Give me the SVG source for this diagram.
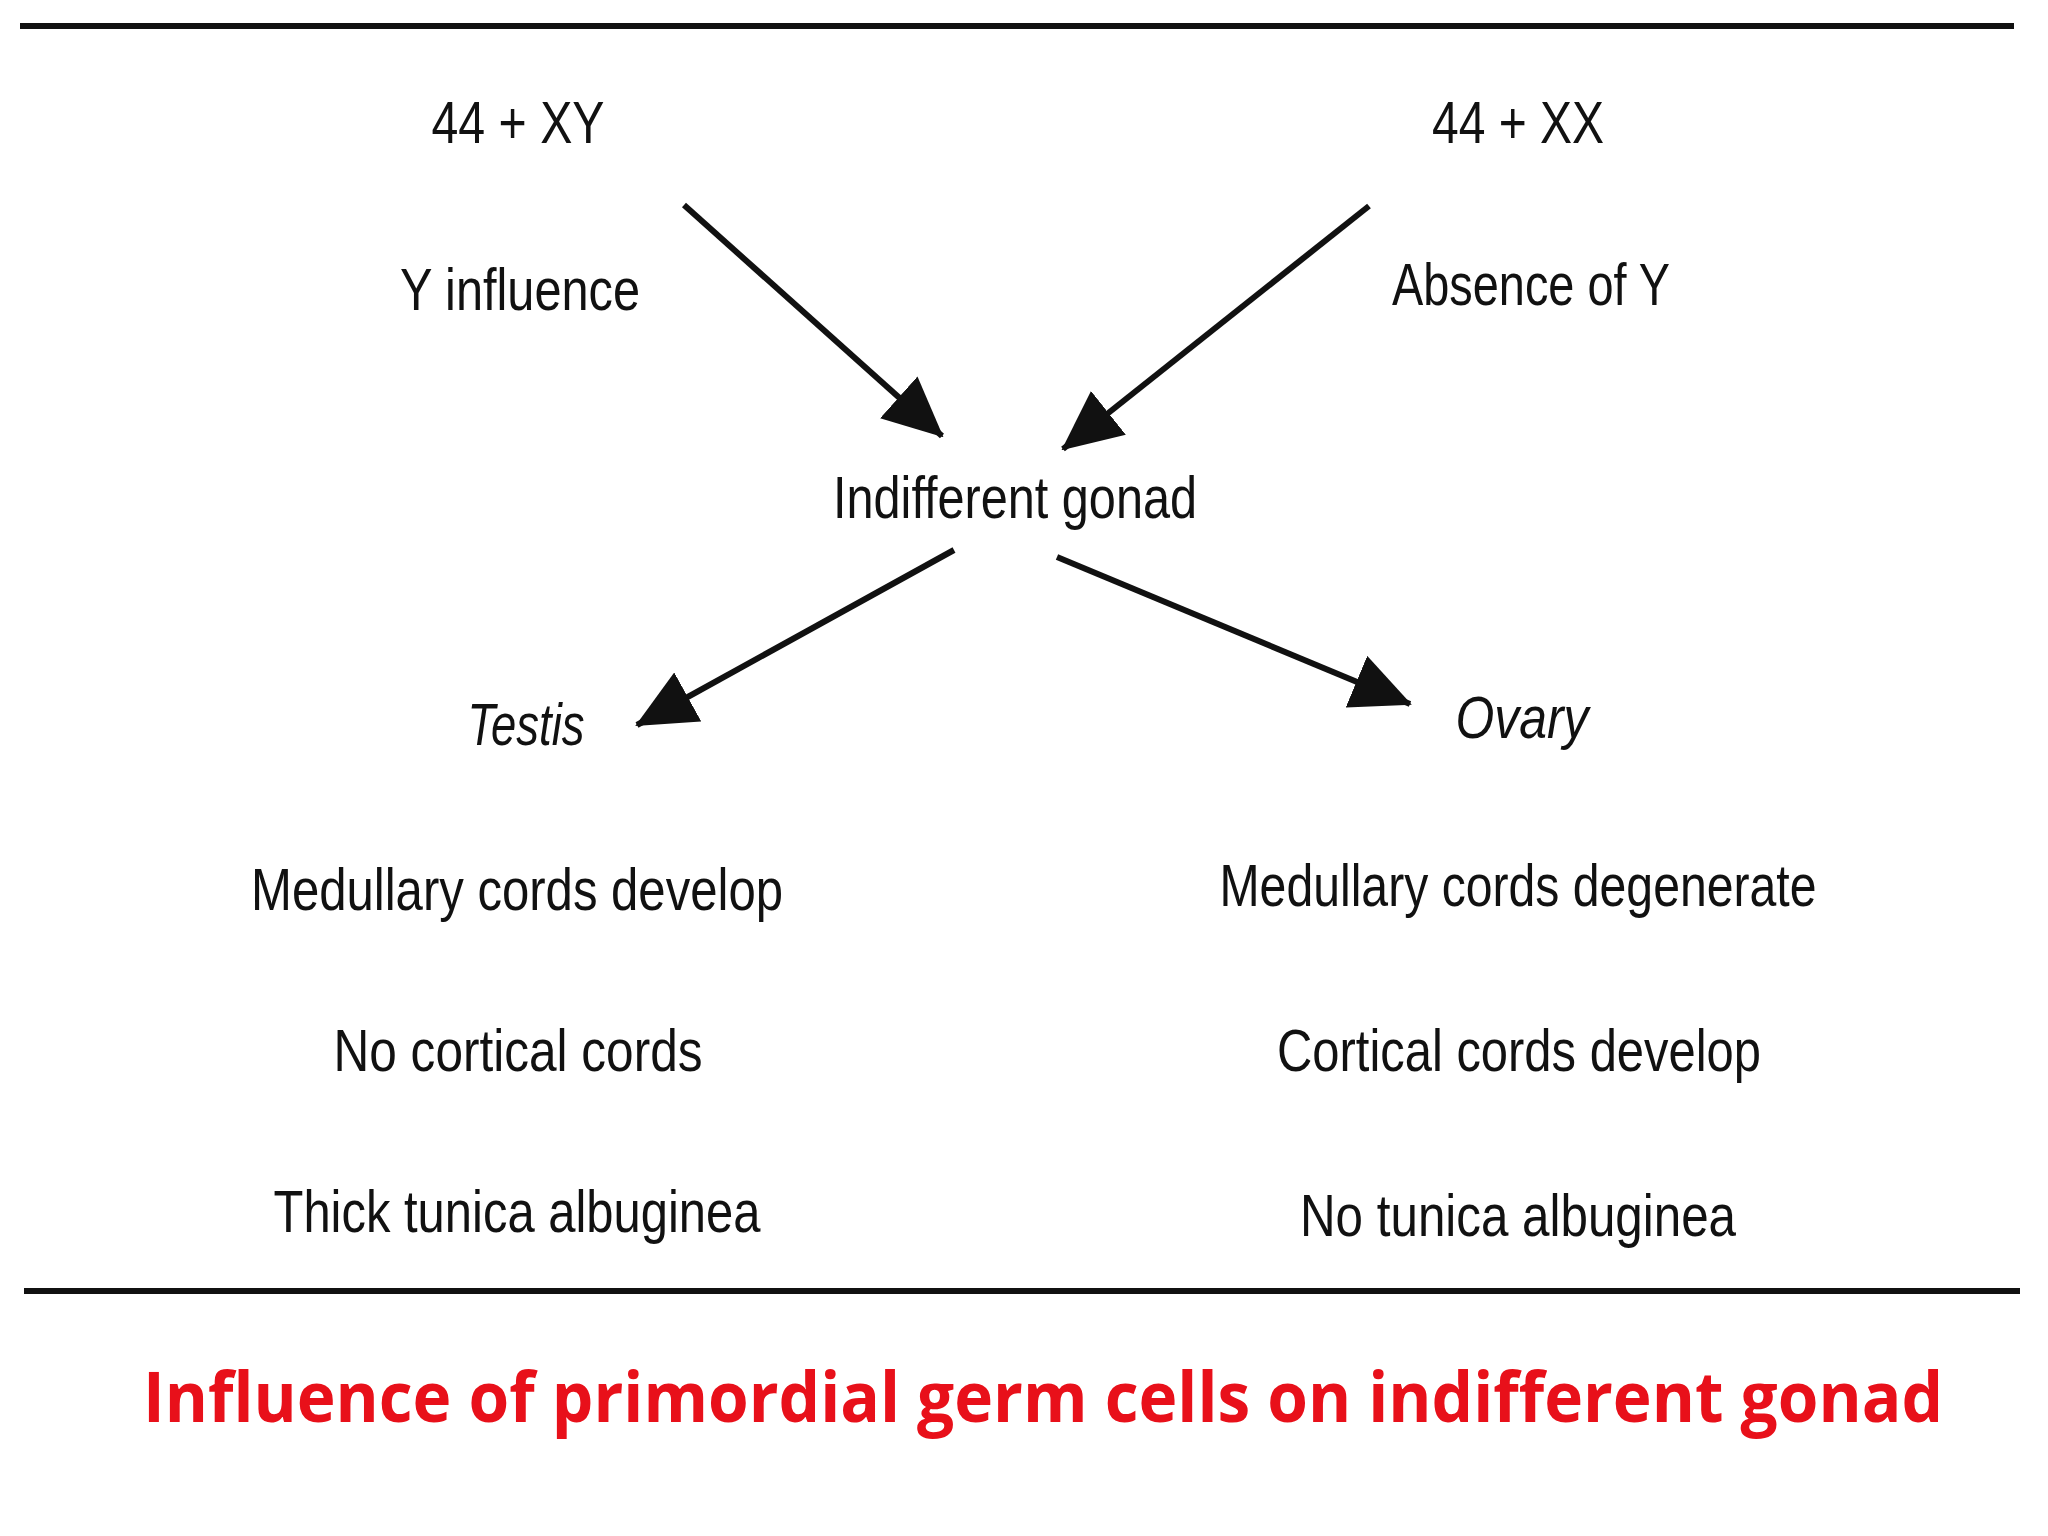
<svg xmlns="http://www.w3.org/2000/svg" width="2048" height="1536" viewBox="0 0 2048 1536">
<style>
.t{font-family:"Liberation Sans",Arial,sans-serif;font-size:60px;fill:#111;text-anchor:middle}
.i{font-style:italic}
.c line{stroke:#111;stroke-width:6}
.title{font-family:"Open Sans","Liberation Sans",sans-serif;font-weight:bold;font-size:70px;fill:#e8101a;text-anchor:middle}
</style>
<defs>
<marker id="a" markerUnits="userSpaceOnUse" markerWidth="60" markerHeight="56" refX="58" refY="28" orient="auto">
<path d="M0,0 L60,28 L0,56 Z" fill="#111"/>
</marker>
</defs>
<rect width="2048" height="1536" fill="#fff"/>
<line x1="20" y1="26" x2="2014" y2="26" stroke="#111" stroke-width="6"/>
<line x1="24" y1="1291" x2="2020" y2="1291" stroke="#111" stroke-width="6"/>
<g id="n1"><text class="t" x="518" y="143" textLength="173" lengthAdjust="spacingAndGlyphs">44 + XY</text></g>
<g id="n2"><text class="t" x="1518" y="143" textLength="172" lengthAdjust="spacingAndGlyphs">44 + XX</text></g>
<g id="l1"><text class="t" x="520" y="310" textLength="240" lengthAdjust="spacingAndGlyphs">Y influence</text></g>
<g id="l2"><text class="t" x="1531" y="305" textLength="278" lengthAdjust="spacingAndGlyphs">Absence of Y</text></g>
<g id="n3"><text class="t" x="1015" y="518" textLength="364" lengthAdjust="spacingAndGlyphs">Indifferent gonad</text></g>
<g id="n4"><text class="t i" x="526" y="745" textLength="117" lengthAdjust="spacingAndGlyphs">Testis</text></g>
<g id="n5"><text class="t i" x="1522" y="738" textLength="133" lengthAdjust="spacingAndGlyphs">Ovary</text></g>
<g id="left">
<text class="t" x="517" y="910" textLength="532" lengthAdjust="spacingAndGlyphs">Medullary cords develop</text>
<text class="t" x="518" y="1071" textLength="369" lengthAdjust="spacingAndGlyphs">No cortical cords</text>
<text class="t" x="517" y="1232" textLength="487" lengthAdjust="spacingAndGlyphs">Thick tunica albuginea</text>
</g>
<g id="right">
<text class="t" x="1518" y="906" textLength="597" lengthAdjust="spacingAndGlyphs">Medullary cords degenerate</text>
<text class="t" x="1519" y="1071" textLength="484" lengthAdjust="spacingAndGlyphs">Cortical cords develop</text>
<text class="t" x="1518" y="1236" textLength="436" lengthAdjust="spacingAndGlyphs">No tunica albuginea</text>
</g>
<g id="connectors" class="c">
<line x1="684" y1="205" x2="942" y2="436" marker-end="url(#a)"/>
<line x1="1369" y1="206" x2="1063" y2="449" marker-end="url(#a)"/>
<line x1="954" y1="550" x2="637" y2="725" marker-end="url(#a)"/>
<line x1="1057" y1="557" x2="1410" y2="704" marker-end="url(#a)"/>
</g>
<text class="title" x="1043" y="1422" textLength="1800" lengthAdjust="spacingAndGlyphs">Influence of primordial germ cells on indifferent gonad</text>
</svg>
